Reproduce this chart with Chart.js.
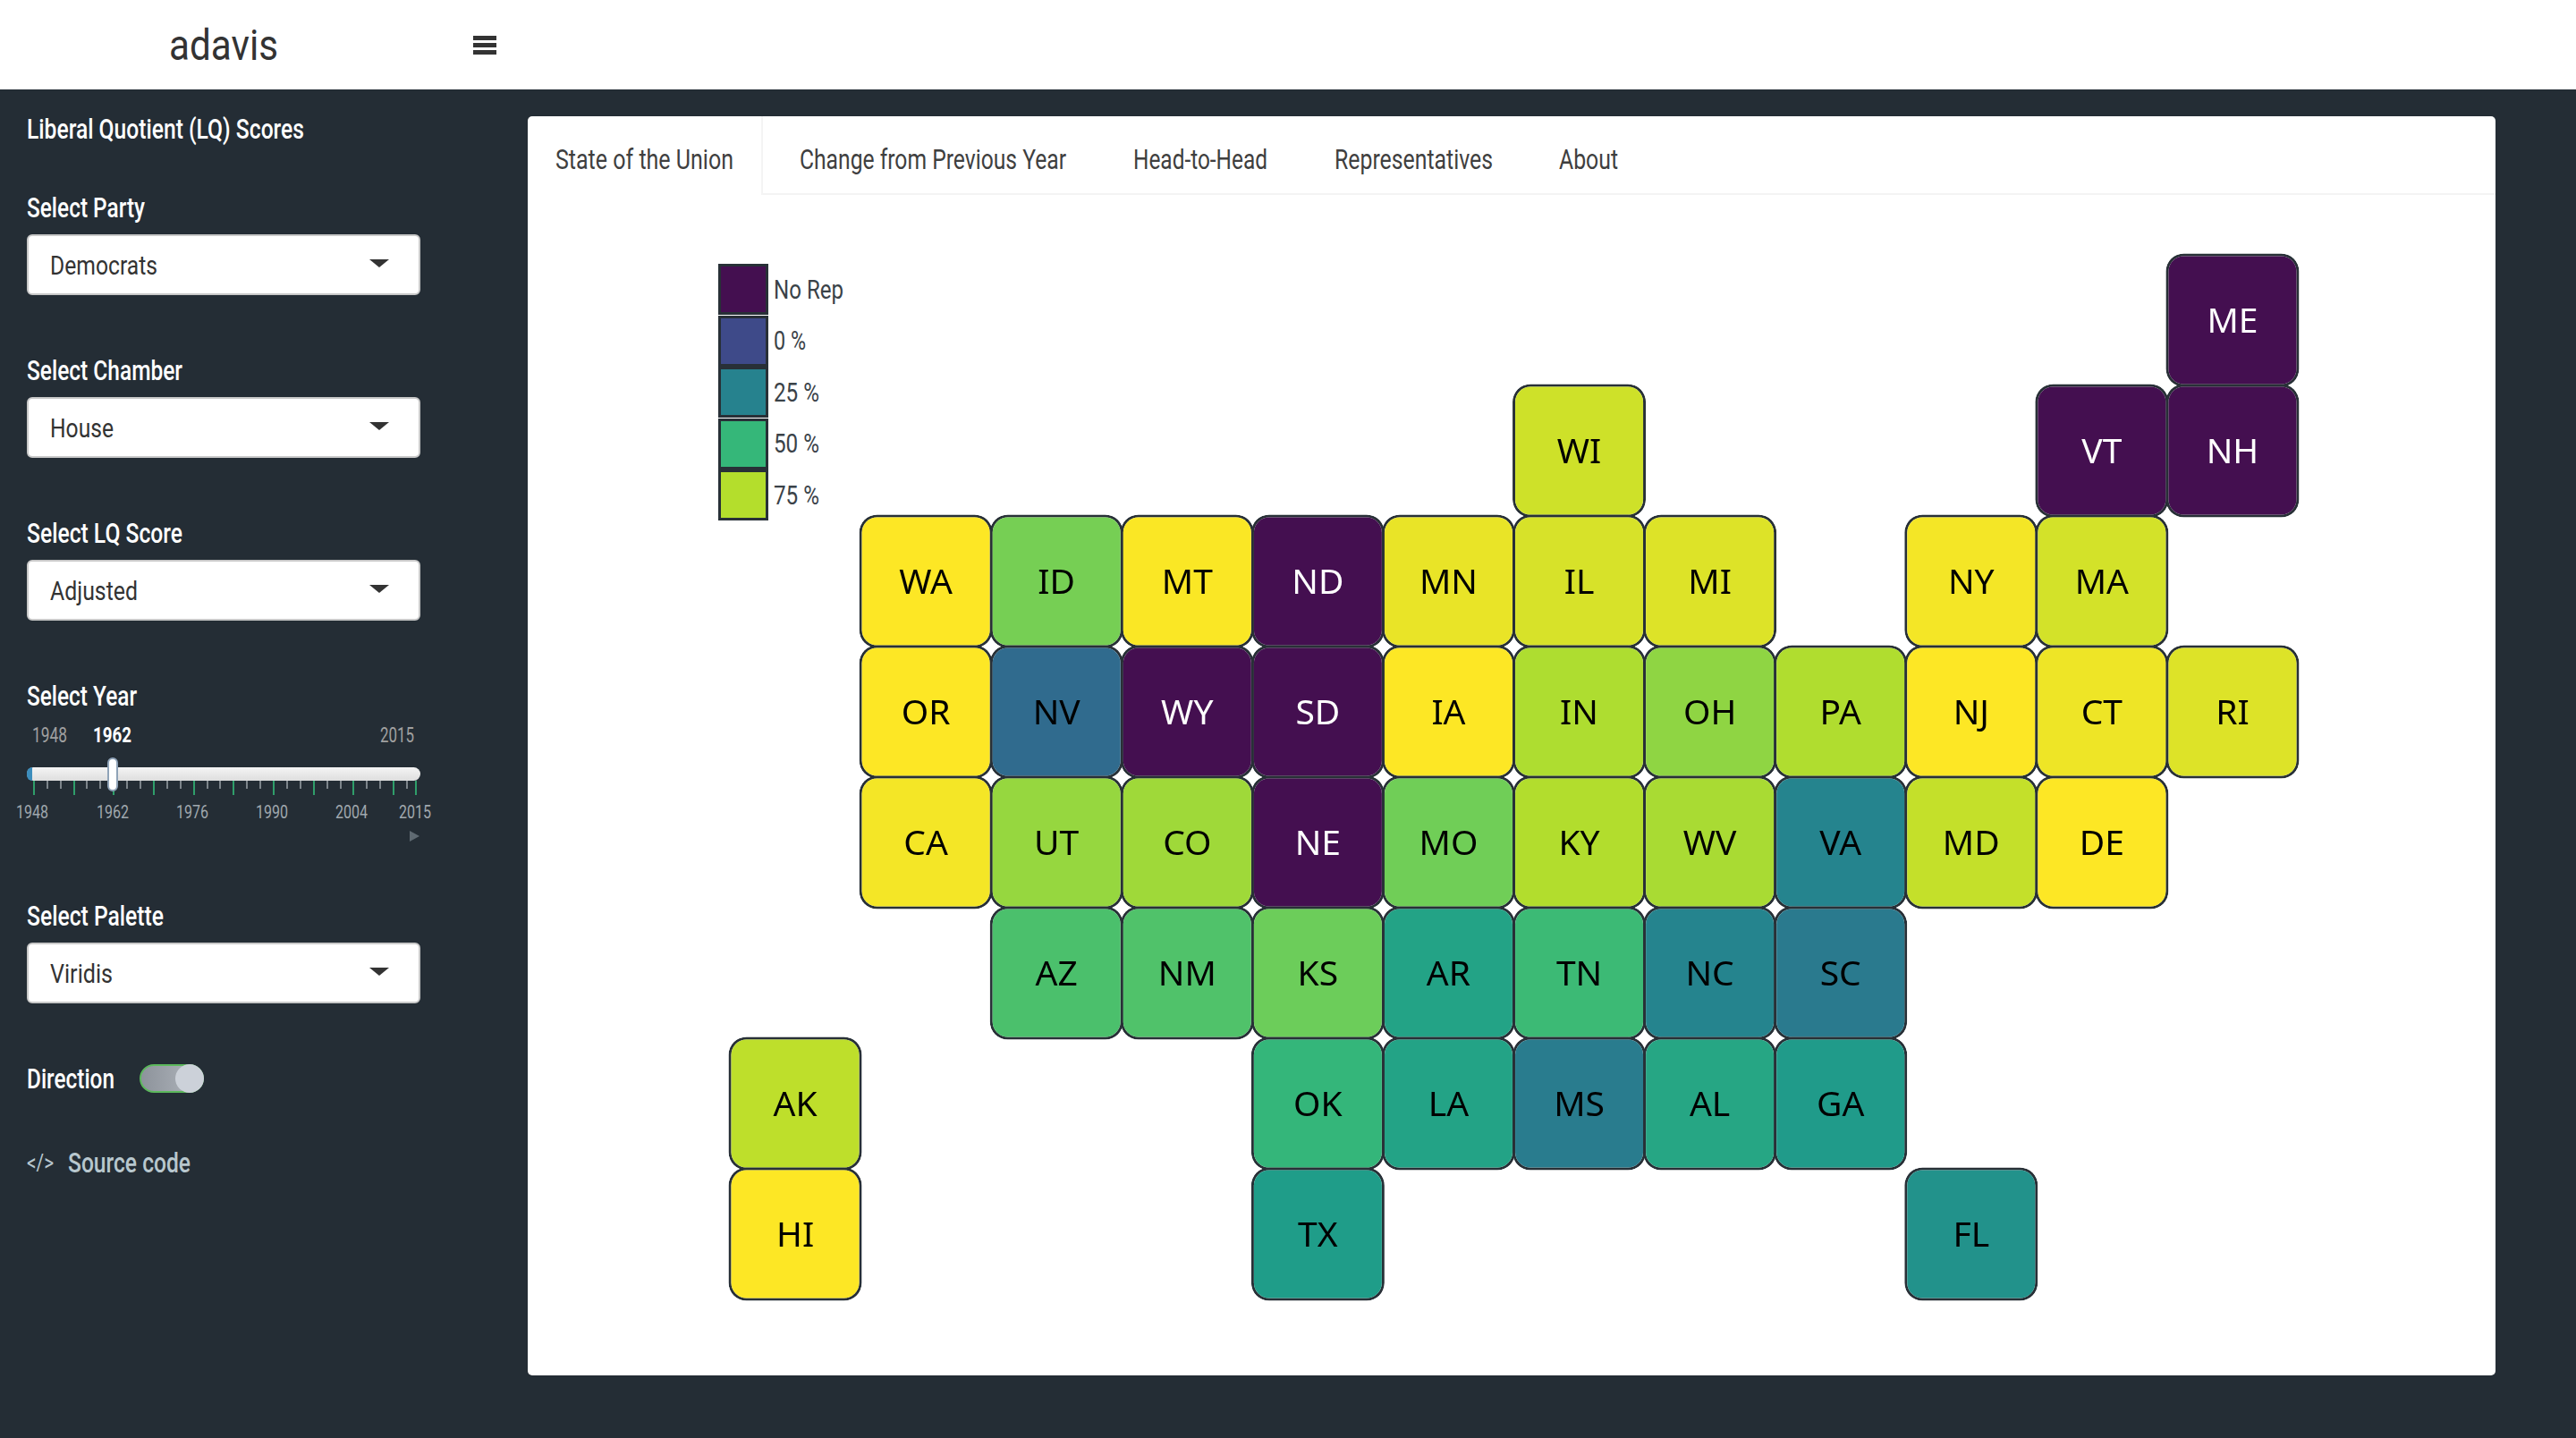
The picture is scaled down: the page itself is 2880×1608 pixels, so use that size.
<!DOCTYPE html>
<html>
<head>
<meta charset="utf-8">
<title>adavis</title>
<script src="https://cdn.jsdelivr.net/npm/chart.js@4"></script>
<style>
  html, body { margin: 0; padding: 0; background: #242d35; overflow: hidden; }
  body { width: 2880px; height: 1608px; position: relative; font-family: Roboto, sans-serif; }
  .box { position: absolute; box-sizing: border-box; }
  .txt { position: absolute; white-space: nowrap; transform-origin: left center; line-height: 1; }
  #tileCanvas { position: absolute; left: 812px; top: 281px; z-index: 2; }
</style>
</head>
<body>
<canvas id="tileCanvas" width="1761" height="1176"></canvas>
<script>
// LQ scores, null = no rep
const STATES = ['ME', 'WI', 'VT', 'NH', 'WA', 'ID', 'MT', 'ND', 'MN', 'IL', 'MI', 'NY', 'MA',
  'OR', 'NV', 'WY', 'SD', 'IA', 'IN', 'OH', 'PA', 'NJ', 'CT', 'RI',
  'CA', 'UT', 'CO', 'NE', 'MO', 'KY', 'WV', 'VA', 'MD', 'DE',
  'AZ', 'NM', 'KS', 'AR', 'TN', 'NC', 'SC',
  'AK', 'OK', 'LA', 'MS', 'AL', 'GA',
  'HI', 'TX', 'FL'];
const GRID_COL = [11, 6, 10, 11, 1, 2, 3, 4, 5, 6, 7, 9, 10,
  1, 2, 3, 4, 5, 6, 7, 8, 9, 10, 11,
  1, 2, 3, 4, 5, 6, 7, 8, 9, 10,
  2, 3, 4, 5, 6, 7, 8,
  0, 4, 5, 6, 7, 8,
  0, 4, 9];
const GRID_ROW = [0, 1, 1, 1, 2, 2, 2, 2, 2, 2, 2, 2, 2,
  3, 3, 3, 3, 3, 3, 3, 3, 3, 3, 3,
  4, 4, 4, 4, 4, 4, 4, 4, 4, 4,
  5, 5, 5, 5, 5, 5, 5,
  6, 6, 6, 6, 6, 6,
  7, 7, 7];
const LQ_SCORES = [null, 79.5, null, null, 87.5, 64, 87, null, 84, 81, 82, 86, 80.3,
  87.5, 14, null, null, 87.5, 74, 68.5, 74.3, 87.5, 85, 82,
  86, 69.7, 71.3, null, 63, 74.6, 73, 26, 77.8, 87.5,
  55, 56, 62.3, 40, 51.5, 26, 21,
  76.7, 49.5, 40, 22, 41.5, 36,
  87.5, 37, 32];

const LEGEND_LABELS = ['No Rep', '0 %', '25 %', '50 %', '75 %'];
const LEGEND_VALUES = [null, 0, 25, 50, 75];

const TAB_LABELS = ['State of the Union', 'Change from Previous Year', 'Head-to-Head', 'Representatives', 'About'];
const YEAR_TICKS = [1948, 1962, 1976, 1990, 2004, 2015];

const NO_REP_COLOR = '#440f50';
const VIRIDIS = ['#3e4a89', '#31688e', '#26828e', '#1f9e89', '#35b779', '#6dcd59', '#b4de2c', '#fde725'];
const TILE_BORDER = '#283037';

const scoreColor = (score) => {
  if (score === null) return NO_REP_COLOR;
  const pos = Math.max(0, Math.min(VIRIDIS.length - 1, score / 12.5));
  const low = Math.floor(pos);
  const high = Math.min(low + 1, VIRIDIS.length - 1);
  const a = parseInt(VIRIDIS[low].slice(1), 16);
  const b = parseInt(VIRIDIS[high].slice(1), 16);
  const f = pos - low;
  const mix = (shift) => Math.round(((a >> shift) & 255) * (1 - f) + ((b >> shift) & 255) * f);
  return `rgb(${mix(16)},${mix(8)},${mix(0)})`;
};

// page furniture
const box = (x, y, w, h, css) => {
  const el = document.createElement('div');
  el.className = 'box';
  el.style.cssText = `left:${x}px;top:${y}px;width:${w}px;height:${h}px;${css || ''}`;
  document.body.appendChild(el);
  return el;
};

// Roboto Condensed is not installed, so squeeze Roboto to the measured width
const label = (text, x, cy, width, size, weight, color) => {
  const el = document.createElement('span');
  el.className = 'txt';
  el.textContent = text;
  el.style.cssText = `left:${x}px;font-size:${size}px;font-weight:${weight};color:${color};`;
  document.body.appendChild(el);
  el.style.top = (cy - el.offsetHeight / 2) + 'px';
  el.style.transform = `scaleX(${width / el.getBoundingClientRect().width})`;
  return el;
};

const caret = (x, y) => box(x, y, 0, 0, 'border-left:11px solid transparent;border-right:11px solid transparent;border-top:9px solid #333;');

box(0, 0, 2880, 100, 'background:#fff;');
label('adavis', 189, 50, 122, 49, 400, '#333');
[40, 48, 56].forEach((y) => box(529, y, 26, 5, 'background:#333;'));

// card and tabs
box(590, 130, 2200, 1408, 'background:#fff;border-radius:5px;');
box(851, 130, 2, 88, 'background:#f4f4f4;');
box(851, 216, 1939, 2, 'background:#f4f4f4;');
const TAB_X = [621, 894, 1267, 1492, 1743];
const TAB_W = [199, 298, 150, 177, 66];
TAB_LABELS.forEach((t, i) => label(t, TAB_X[i], 178, TAB_W[i], 31, 400, '#3f3f3f'));

// sidebar
label('Liberal Quotient (LQ) Scores', 30, 144, 310, 31, 500, '#fff');
[['Select Party', 232, 132], ['Select Chamber', 414, 174], ['Select LQ Score', 596, 174],
  ['Select Year', 778, 123], ['Select Palette', 1024, 153], ['Direction', 1206, 98]]
  .forEach(([t, cy, w]) => label(t, 30, cy, w, 32, 500, '#fff'));

[['Democrats', 262, 120], ['House', 444, 71], ['Adjusted', 626, 98], ['Viridis', 1054, 70]].forEach(([t, y, w]) => {
  box(30, y, 440, 68, 'background:#fff;border:2px solid #c9c9c9;border-radius:6px;');
  label(t, 56, y + 35, w, 30, 400, '#333');
  caret(413, y + 28);
});

// year slider
label('1948', 36, 822, 39, 23, 400, '#a0a0a0');
label('1962', 104, 822, 43, 24, 700, '#fff');
label('2015', 425, 822, 38, 23, 400, '#a0a0a0');
box(30, 858, 440, 15, 'background:linear-gradient(#f4f4f4,#dedede);border-radius:8px;');
box(30, 858, 6, 15, 'background:#3c8dbc;border-radius:8px 0 0 8px;');
for (let i = 0; i <= 28; i++) {
  const x = 36.8 + i * 14.9;
  const major = i % 3 === 0;
  box(x, 873, 2, major ? 16 : 9, `background:${major ? '#2f9e6a' : '#7d858b'};`);
}
box(463.5, 873, 2, 16, 'background:#2f9e6a;');
box(120, 847, 12, 38, 'background:#fff;border:2px solid #8fa3b8;border-radius:6px;');
const YEAR_X = [18, 108, 197, 286, 375, 446];
YEAR_TICKS.forEach((y, i) => label(String(y), YEAR_X[i], 908, 36, 20, 400, '#a0a8ae'));
box(458, 929, 0, 0, 'border-top:6.5px solid transparent;border-bottom:6.5px solid transparent;border-left:11px solid #5f6a72;');

// direction switch + source link
box(156, 1190, 72, 32, 'background:linear-gradient(90deg,#8d939b,#b2b7be);border:2px solid #5cb85c;border-radius:16px;');
box(196, 1190, 32, 32, 'background:#ccd1d9;border-radius:50%;');
label('</>', 30, 1300, 30, 26, 400, '#b8c7ce');
label('Source code', 76, 1300, 137, 32, 500, '#b8c7ce');

// legend swatches
LEGEND_LABELS.forEach((t, i) => {
  const y = 295 + i * 57.6;
  box(803, y, 56, 57, `background:${scoreColor(LEGEND_VALUES[i])};border:3px solid ${TILE_BORDER};`);
  label(t, 865, y + 29, [78, 36, 51, 51, 51][i], 29, 400, '#3a4248');
});

// the tile map: one floating bar per state
const COLUMNS = Array.from({ length: 12 }, (_, i) => i);
const OVERLAP = 0.0103; // neighbouring tiles share their border

const tileText = {
  id: 'tileText',
  afterDatasetsDraw(chart) {
    const { ctx } = chart;
    ctx.save();
    ctx.font = '39px "Noto Sans"';
    ctx.textAlign = 'center';
    ctx.textBaseline = 'middle';
    chart.getDatasetMeta(0).data.forEach((bar, i) => {
      const { x, y, base } = bar.getProps(['x', 'y', 'base'], true);
      ctx.fillStyle = LQ_SCORES[i] === null ? '#fff' : '#000';
      ctx.fillText(STATES[i], x, (y + base) / 2 + 3);
    });
    ctx.restore();
  }
};

const tileChart = new Chart(document.getElementById('tileCanvas').getContext('2d'), {
  type: 'bar',
  plugins: [tileText],
  data: {
    labels: COLUMNS,
    datasets: [{
      data: STATES.map((s, i) => ({ x: GRID_COL[i], y: [GRID_ROW[i] - OVERLAP, GRID_ROW[i] + 1 + OVERLAP] })),
      backgroundColor: LQ_SCORES.map(scoreColor),
      borderColor: TILE_BORDER,
      borderWidth: 3,
      borderRadius: 20,
      borderSkipped: false,
      barPercentage: 1.02,
      categoryPercentage: 1,
      clip: false
    }]
  },
  options: {
    responsive: false,
    animation: false,
    devicePixelRatio: 1,
    layout: { padding: 4 },
    plugins: { legend: { display: false }, tooltip: { enabled: false } },
    scales: {
      x: { type: 'category', display: false, offset: true },
      y: { display: false, reverse: true, min: 0, max: 8 }
    }
  }
});
</script>
</body>
</html>
